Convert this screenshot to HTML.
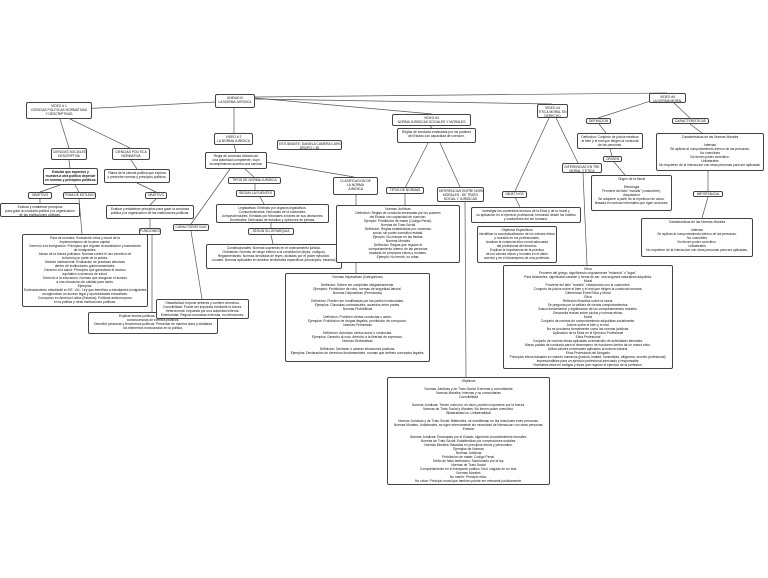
<!DOCTYPE html>
<html><head><meta charset="utf-8"><style>
body{margin:0;width:768px;height:578px;background:#fff;position:relative;overflow:hidden;font-family:"Liberation Sans",sans-serif}
.b{position:absolute;box-sizing:border-box;border:1px solid #444;border-radius:2px;background:#fff;font-size:3.3px;line-height:4px;text-align:center;color:#111;padding:1px 1px;overflow:hidden;white-space:nowrap}
.t{font-weight:bold}
svg{position:absolute;left:0;top:0}
</style></head><body>
<svg width="768" height="578" stroke="#555" stroke-width="0.7" fill="none">
<line x1="235" y1="101" x2="59" y2="110"/>
<line x1="255" y1="98" x2="432" y2="114"/>
<line x1="255" y1="99" x2="552" y2="104"/>
<line x1="255" y1="97" x2="667" y2="93"/>
<line x1="234" y1="108" x2="234" y2="133"/>
<line x1="60" y1="119" x2="69" y2="148"/>
<line x1="70" y1="119" x2="130" y2="148"/>
<line x1="69" y1="160" x2="70" y2="168"/>
<line x1="131" y1="160" x2="137" y2="169"/>
<line x1="60" y1="185" x2="40" y2="192"/>
<line x1="75" y1="185" x2="79" y2="192"/>
<line x1="40" y1="199" x2="40" y2="203"/>
<line x1="79" y1="199" x2="82" y2="234"/>
<line x1="137" y1="183" x2="156" y2="192"/>
<line x1="156" y1="199" x2="150" y2="205"/>
<line x1="150" y1="219" x2="150" y2="228"/>
<line x1="152" y1="235" x2="152" y2="312"/>
<line x1="234" y1="145" x2="236" y2="152"/>
<line x1="230" y1="169" x2="191" y2="224"/>
<line x1="191" y1="231" x2="202" y2="299"/>
<line x1="245" y1="169" x2="254" y2="177"/>
<line x1="266" y1="162" x2="354" y2="177"/>
<line x1="255" y1="184" x2="255" y2="190"/>
<line x1="260" y1="197" x2="264" y2="204"/>
<line x1="271" y1="223" x2="271" y2="228"/>
<line x1="271" y1="235" x2="273" y2="244"/>
<line x1="356" y1="195" x2="356" y2="273"/>
<line x1="430" y1="126" x2="432" y2="128"/>
<line x1="428" y1="143" x2="405" y2="188"/>
<line x1="440" y1="143" x2="460" y2="187"/>
<line x1="405" y1="193" x2="405" y2="206"/>
<line x1="465" y1="202" x2="466" y2="377"/>
<line x1="549" y1="118" x2="515" y2="191"/>
<line x1="556" y1="118" x2="578" y2="163"/>
<line x1="515" y1="197" x2="520" y2="207"/>
<line x1="583" y1="173" x2="587" y2="265"/>
<line x1="660" y1="98" x2="598" y2="118"/>
<line x1="674" y1="103" x2="690" y2="118"/>
<line x1="599" y1="124" x2="606" y2="133"/>
<line x1="610" y1="149" x2="612" y2="156"/>
<line x1="614" y1="162" x2="625" y2="175"/>
<line x1="690" y1="124" x2="702" y2="133"/>
<line x1="708" y1="171" x2="708" y2="191"/>
<line x1="708" y1="197" x2="702" y2="218"/>
</svg>
<div class="b" style="left:215px;top:94px;width:40px;height:14px">UNIDAD III<br>LA NORMA JURIDICA</div>
<div class="b" style="left:26px;top:102px;width:66px;height:17px">VIDEO # 1<br>CIENCIAS POLITICAS NORMATIVAS<br>Y DESCRIPTIVAS</div>
<div class="b" style="left:51px;top:148px;width:36px;height:12px">CIENCIAS SOCIALES<br>DESCRIPTIVA</div>
<div class="b" style="left:112px;top:148px;width:38px;height:12px">CIENCIAS POLITICA<br>NORMATIVA</div>
<div class="b t" style="left:43px;top:168px;width:55px;height:17px">Estudia que aspectos y<br>muestra a otra politica depende<br>en normas y principios politicos.</div>
<div class="b" style="left:104px;top:169px;width:66px;height:14px">Rama de la ciencia politica que explora<br>y prescribe normas y principios politicos.</div>
<div class="b" style="left:28px;top:192px;width:24px;height:7px;line-height:4px;padding:0">OBJETIVO</div>
<div class="b" style="left:63px;top:192px;width:33px;height:7px;padding:0">TEMA DE ESTUDIO</div>
<div class="b" style="left:145px;top:192px;width:22px;height:7px;padding:0">OBJETIVO</div>
<div class="b" style="left:0px;top:203px;width:80px;height:14px">Evaluar y establecer principios<br>para guiar la conducta politica y la organizacion<br>de las instituciones politicas.</div>
<div class="b" style="left:106px;top:205px;width:88px;height:14px">Evaluar y establecer principios para guiar la conducta<br>politica y la organizacion de las instituciones politicas.</div>
<div class="b" style="left:139px;top:228px;width:22px;height:7px;padding:0">FUNCIONES</div>
<div class="b" style="left:22px;top:234px;width:126px;height:73px">Para de muestra: Evaluacion etica y moral de la<br>implementacion de la pena capital.<br>Derecho a la inmigracion: Principios que regulan la asimilacion y tratamiento<br>de inmigrantes.<br>Abuso de la fuerza policiaca: Normas contra el uso excesivo de<br>la fuerza por parte de la policia.<br>Metodo institucional: Evaluacion de practicas abusivas<br>dentro de instituciones gubernamentales.<br>Derecho a la salud: Principios que garantizan el acceso<br>equitativo a servicios de salud.<br>Derecho a la educacion: Normas que aseguran el acceso<br>a una educacion de calidad para todos.<br>Ejemplos:<br>Endeudamiento estudiantil en EE. UU.: Ley que beneficia a estudiantes inmigrantes<br>recogiendose un acceso legal y oportunidades educativas.<br>Corrupcion en America Latina (Estados): Politicas anticorrupcion<br>en la politica y otras instituciones publicas.</div>
<div class="b" style="left:88px;top:312px;width:130px;height:22px">Explicar teorias politicas: Analizar las causas y<br>consecuencias de eventos politicos.<br>Describir personas y fenomenos politicos: Presentar de manera clara y detallada<br>los elementos involucrados en la politica.</div>
<div class="b" style="left:214px;top:133px;width:39px;height:12px">VIDEO # 2<br>LA NORMA JURIDICA</div>
<div class="b" style="left:277px;top:140px;width:65px;height:10px">ESTUDIANTE: DANIELA CAMERA CURICULAR<br>GRUPO = 50</div>
<div class="b" style="left:205px;top:152px;width:62px;height:17px">Regla de conducta dictada por<br>una autoridad competente, cuyo<br>incumplimiento acarrea una sancion</div>
<div class="b" style="left:228px;top:177px;width:53px;height:7px;padding:0">TIPOS DE NORMA JURIDICA</div>
<div class="b" style="left:236px;top:190px;width:39px;height:7px;padding:0">SEGUN LA FUENTES</div>
<div class="b" style="left:216px;top:204px;width:113px;height:19px">Legislativas: Emitidas por organos legislativos.<br>Consuetudinarias: Derivadas de la costumbre.<br>Jurisprudenciales: Emitidas por tribunales a traves de sus decisiones.<br>Doctrinales: Derivadas de estudios y opiniones de juristas.</div>
<div class="b" style="left:248px;top:228px;width:46px;height:7px;padding:0">SEGUN SU JERARQUIA</div>
<div class="b" style="left:206px;top:244px;width:136px;height:25px">Constitucionales: Normas supremas en el ordenamiento juridico.<br>Ordinarias: Normas de rango inferior a la constitucion (leyes, codigos).<br>Reglamentarias: Normas derivadas de leyes, dictadas por el poder ejecutivo.<br>Locales: Normas aplicables en ambitos territoriales especificos (municipios, estados).</div>
<div class="b" style="left:173px;top:224px;width:36px;height:7px;padding:0">CARACTERISTICAS</div>
<div class="b" style="left:156px;top:299px;width:93px;height:20px">Obstatividad: Impone deberes y confiere derechos.<br>Coercibilidad: Puede ser impuesta mediante la fuerza.<br>Heteronomia: Impuesta por una autoridad externa.<br>Exterioridad: Regula conductas externas, no intenciones.</div>
<div class="b" style="left:333px;top:177px;width:45px;height:18px">CLASIFICACION DE<br>LA NORMA<br>JURIDICA</div>
<div class="b" style="left:336px;top:205px;width:124px;height:58px">Normas Juridicas<br>Definicion: Reglas de conducta emanadas por los poderes<br>del Estado con capacidad de coercion.<br>Ejemplo: Prohibicion de matar (Codigo Penal).<br>Normas de Trato Social<br>Definicion: Reglas establecidas por consenso<br>social, sin poder coercitivo estatal.<br>Ejemplo: No mascar en las fiestas.<br>Normas Morales<br>Definicion: Reglas que regulan el<br>comportamiento interno de las personas<br>basadas en principios eticos y morales.<br>Ejemplo: No mentir, no robar.</div>
<div class="b" style="left:285px;top:273px;width:145px;height:89px">Normas Imperativas (Categoricas)<br><br>Definicion: Deben ser cumplidas obligatoriamente.<br>Ejemplos: Prohibicion de robo, normas de seguridad laboral.<br>Normas Dispositivas (Permisivas)<br><br>Definicion: Pueden ser modificadas por las partes involucradas.<br>Ejemplos: Clausulas contractuales, acuerdos entre partes.<br>Normas Prohibitivas<br><br>Definicion: Prohiben ciertas conductas o actos.<br>Ejemplos: Prohibicion de drogas ilegales, prohibicion de corrupcion.<br>Normas Permisivas<br><br>Definicion: Autorizan ciertos actos o conductas.<br>Ejemplos: Derecho al voto, derecho a la libertad de expresion.<br>Normas Declarativas<br><br>Definicion: Declaran o aclaran situaciones juridicas.<br>Ejemplos: Declaracion de derechos fundamentales, normas que definen conceptos legales.</div>
<div class="b" style="left:392px;top:114px;width:79px;height:12px">VIDEO #3<br>NORMA JURIDICAS SOCIALES Y MORALES</div>
<div class="b" style="left:397px;top:128px;width:79px;height:15px">Reglas de conducta emanadas por los poderes<br>del Estado con capacidad de coercion.</div>
<div class="b" style="left:386px;top:187px;width:38px;height:7px;padding:0">TIPOS DE NORMAS</div>
<div class="b" style="left:437px;top:187px;width:47px;height:15px">DIFERENCIAS ENTRE NORMAS<br>MORALES , DE TRATO<br>SOCIAL Y JURIDICAS</div>
<div class="b" style="left:387px;top:377px;width:163px;height:108px">Objetivos<br><br>Normas Juridicas y de Trato Social: Externas y comunitarias<br>Normas Morales: Internas y no comunitarias<br>Coercibilidad<br><br>Normas Juridicas: Tienen coercion, es decir, pueden imponerse por la fuerza.<br>Normas de Trato Social y Morales: No tienen poder coercitivo.<br>Bilateralidad vs. Unilateralidad<br><br>Normas Juridicas y de Trato Social: Bilaterales, se manifiestan en las relaciones entre personas.<br>Normas Morales: Unilaterales, se rigen internamente sin necesidad de interaccion con otras personas.<br>Emision<br><br>Normas Juridicas: Emanadas por el Estado, siguiendo procedimientos formales.<br>Normas de Trato Social: Establecidas por convenciones sociales.<br>Normas Morales: Basadas en principios eticos y personales.<br>Ejemplos de Normas<br>Normas Juridicas<br>Prohibicion de matar: Codigo Penal.<br>Delito de falso testimonio: Sancionado por la ley.<br>Normas de Trato Social<br>Comportamiento en el transporte publico: No ir colgado en un bus.<br>Normas Morales<br>No mentir: Principio etico.<br>No robar: Principio moral que tambien puede ser relevante juridicamente.</div>
<div class="b" style="left:537px;top:104px;width:31px;height:14px">VIDEO #4<br>ETICA MORAL EN EL<br>DERECHO</div>
<div class="b" style="left:502px;top:191px;width:25px;height:7px;padding:0">OBJETIVOS</div>
<div class="b" style="left:471px;top:207px;width:110px;height:16px">Investigar los contenidos teoricos de la Etica y de la moral y<br>su aplicacion en el ejercicio profesional, formando desde los habitos<br>y costumbres del ser humano.</div>
<div class="b" style="left:477px;top:226px;width:80px;height:37px">Objetivos Especificos<br>Identificar la conceptualizacion de los valores eticos<br>y morales en los profesionales.<br>Analizar la conducta etico moral adecuada<br>del profesional del derecho.<br>Explicar la importancia de la practica<br>de los valores eticos y morales en el diario<br>convivir y en el desempeno de una profesion.</div>
<div class="b" style="left:562px;top:163px;width:40px;height:10px">DIFERENCIAS EN TRE<br>MORAL Y ETICA</div>
<div class="b" style="left:503px;top:265px;width:170px;height:104px">Etica<br>Proviene del griego, significando originalmente "estancia" o "lugar".<br>Para Aristoteles, significaba caracter y forma de ser, una segunda naturaleza adquirida.<br>Moral<br>Proviene del latin "moralis", relacionado con la costumbre.<br>Conjunto de juicios sobre el bien y el mal que dirigen la conducta humana.<br>Diferencias Entre Etica y Moral<br>Etica<br>Reflexion filosofica sobre la moral.<br>Se pregunta por la validez de ciertos comportamientos.<br>Busca fundamentar y legitimacion de los comportamientos morales.<br>Desarrolla teorias sobre juicios y normas eticas.<br>Moral<br>Conjunto de normas de comportamiento adquiridas socialmente.<br>Juicios sobre el bien y el mal.<br>No se proclama formalmente como las normas juridicas.<br>Aplicacion de la Etica en el Ejercicio Profesional<br>Etica Profesional<br>Conjunto de normas eticas aplicadas al desarrollo de actividades laborales.<br>Marco pautas de conducta para el desempeno de funciones dentro de un marco etico.<br>Utiliza valores universales aplicados al entorno laboral.<br>Etica Profesional del Abogado<br>Principios eticos basados en valores humanos (justicia, lealtad, honestidad, diligencia, secreto profesional).<br>Imprescindibles para un ejercicio profesional adecuado y responsable.<br>Normativa etica en codigos y leyes que regulan el ejercicio de la profesion.</div>
<div class="b" style="left:649px;top:93px;width:37px;height:10px">VIDEO #5<br>LA NORMA MORAL</div>
<div class="b" style="left:586px;top:118px;width:25px;height:6px;padding:0;line-height:4px">DEFINICION</div>
<div class="b" style="left:672px;top:118px;width:37px;height:6px;padding:0;line-height:4px">CARACTERISTICAS</div>
<div class="b" style="left:577px;top:133px;width:66px;height:16px">Definicion: Conjunto de juicios relativos<br>al bien y el mal que dirigen la conducta<br>de las personas.</div>
<div class="b" style="left:603px;top:156px;width:19px;height:6px;padding:0;line-height:4px">ORIGEN</div>
<div class="b" style="left:591px;top:175px;width:81px;height:36px">Origen de la Moral<br><br>Etimologia<br>Proviene del latin "moralis" (costumbre).<br>Adquisicion<br>Se adquiere a partir de la repeticion de actos.<br>Basada en normas informales que rigen acciones.</div>
<div class="b" style="left:656px;top:133px;width:108px;height:38px">Caracteristicas de las Normas Morales<br><br>Internas<br>Se aplican al comportamiento interno de las personas.<br>No coercibles<br>No tienen poder coercitivo.<br>Unilaterales<br>No requieren de la interaccion con otras personas para ser aplicadas.</div>
<div class="b" style="left:693px;top:191px;width:30px;height:6px;padding:0;line-height:4px">IMPORTANCIA</div>
<div class="b" style="left:641px;top:218px;width:112px;height:39px">Caracteristicas de las Normas Morales<br><br>Internas<br>Se aplican al comportamiento interno de las personas.<br>No coercibles<br>No tienen poder coercitivo.<br>Unilaterales<br>No requieren de la interaccion con otras personas para ser aplicadas.</div>
</body></html>
